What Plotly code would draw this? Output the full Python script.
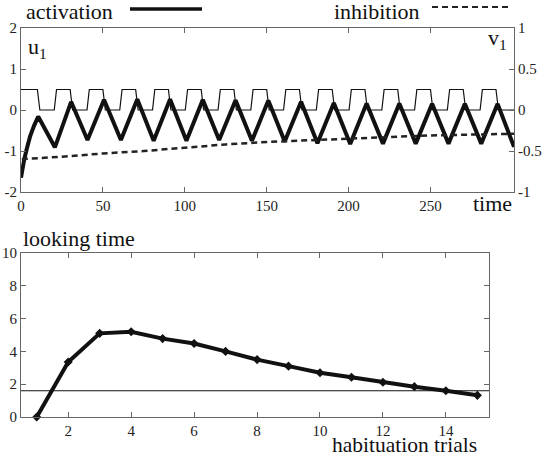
import plotly.graph_objects as go

W, H = 550, 458

# stimulus (thin square wave), left axis
stim_t = [0, 10, 11.5, 20.3, 21.7, 30, 31.5, 40.3, 41.7, 50, 51.5, 60.3, 61.7, 70, 71.5,
          80.3, 81.7, 90, 91.5, 100.3, 101.7, 110, 111.5, 120.3, 121.7, 130, 131.5,
          140.3, 141.7, 150, 151.5, 160.3, 161.7, 170, 171.5, 180.3, 181.7, 190, 191.5,
          200.3, 201.7, 210, 211.5, 220.3, 221.7, 230, 231.5, 240.3, 241.7, 250, 251.5,
          260.3, 261.7, 270, 271.5, 280.3, 281.7, 290, 291.5, 301]
stim_u = [0.5, 0.5, 0, 0, 0.5, 0.5, 0, 0, 0.5, 0.5, 0, 0, 0.5, 0.5, 0,
          0, 0.5, 0.5, 0, 0, 0.5, 0.5, 0, 0, 0.5, 0.5, 0,
          0, 0.5, 0.5, 0, 0, 0.5, 0.5, 0, 0, 0.5, 0.5, 0,
          0, 0.5, 0.5, 0, 0, 0.5, 0.5, 0, 0, 0.5, 0.5, 0,
          0, 0.5, 0.5, 0, 0, 0.5, 0.5, 0, 0]

# activation u1 (thick line), left axis
act_t = [0, 0.8, 2, 3.5, 5.5, 8, 10.5, 20.7, 30.6, 40.6, 50.7, 61, 71, 81, 91, 101, 111,
         121, 131, 141, 151, 161, 171, 181, 191, 201, 211, 221, 231, 241, 251, 261, 271,
         281, 291, 301]
act_u = [-1.65, -1.45, -1.2, -0.95, -0.65, -0.38, -0.16, -0.91, 0.2, -0.73, 0.25, -0.73,
         0.26, -0.75, 0.26, -0.75, 0.25, -0.73, 0.24, -0.75, 0.23, -0.77, 0.2, -0.81, 0.17,
         -0.83, 0.16, -0.82, 0.16, -0.82, 0.15, -0.82, 0.15, -0.82, 0.15, -0.9]

# inhibition v1 (dashed), right axis
inh_t = [0.5, 25, 50, 75, 100, 125, 150, 175, 200, 225, 250, 275, 301]
inh_v = [-0.6, -0.57, -0.53, -0.5, -0.46, -0.42, -0.39, -0.37, -0.35, -0.33, -0.31, -0.3, -0.29]

# looking time per habituation trial
trials = list(range(1, 16))
looking = [0, 3.35, 5.1, 5.2, 4.78, 4.48, 4.0, 3.5, 3.1, 2.7, 2.42, 2.12, 1.85, 1.6, 1.32]
threshold = 1.6

t_ticks = [0, 50, 100, 150, 200, 250]
u_ticks = [-2, -1, 0, 1, 2]
u_text = ["-2", "-1", "0", "1", "2"]
v_ticks = [-1, -0.5, 0, 0.5, 1]
v_text = ["-1", "-0.5", "0", "0.5", "1"]
trial_ticks = [2, 4, 6, 8, 10, 12, 14]
look_ticks = [0, 2, 4, 6, 8, 10]

FONT = "Times New Roman, Liberation Serif, Times, serif"
INK = "#111111"
AXC = "#666666"


def px(x):
    return x / W


def py(y):
    return 1 - y / H


fig = go.Figure()
fig.add_trace(go.Scatter(x=stim_t, y=stim_u, mode="lines",
                         line=dict(color=INK, width=1.2), xaxis="x", yaxis="y"))
fig.add_trace(go.Scatter(x=act_t, y=act_u, mode="lines",
                         line=dict(color=INK, width=4), xaxis="x", yaxis="y"))
fig.add_trace(go.Scatter(x=inh_t, y=inh_v, mode="lines",
                         line=dict(color="#222222", width=2.5, dash="6px,4px"),
                         xaxis="x", yaxis="y2"))
fig.add_trace(go.Scatter(x=trials, y=looking, mode="lines+markers", cliponaxis=False,
                         line=dict(color=INK, width=4),
                         marker=dict(symbol="diamond", size=7, color=INK),
                         xaxis="x2", yaxis="y3"))

fig.add_shape(type="line", xref="x2 domain", yref="y3", x0=0, x1=1,
              y0=threshold, y1=threshold, line=dict(color=INK, width=1.2))

# legend samples drawn to the right of the labels
fig.add_shape(type="line", xref="paper", yref="paper", x0=px(130), x1=px(202),
              y0=py(9), y1=py(9), line=dict(color=INK, width=3.5))
fig.add_shape(type="line", xref="paper", yref="paper", x0=px(432), x1=px(512),
              y0=py(7), y1=py(7), line=dict(color="#222222", width=2, dash="6px,4px"))

ax = dict(showline=True, linecolor=AXC, linewidth=1, ticks="inside", ticklen=5,
          tickcolor=AXC, showgrid=False, zeroline=False, automargin=False,
          tickfont=dict(family=FONT, size=15, color="#222222"))

fig.update_layout(
    width=W, height=H, margin=dict(l=0, r=0, t=0, b=0, autoexpand=False),
    paper_bgcolor="white", plot_bgcolor="white", showlegend=False,
    font=dict(family=FONT, color="#111111"),
    xaxis=dict(ax, domain=[px(21), px(514)], range=[0, 301], tickvals=t_ticks,
               anchor="y", mirror="ticks"),
    yaxis=dict(ax, domain=[py(192), py(28)], range=[-2, 2], tickvals=u_ticks,
               ticktext=u_text, anchor="x"),
    yaxis2=dict(ax, range=[-1, 1], tickvals=v_ticks, ticktext=v_text,
                overlaying="y", side="right", anchor="x"),
    xaxis2=dict(ax, domain=[px(21), px(489)], range=[0.5, 15.37], tickvals=trial_ticks,
                anchor="y3", mirror="ticks"),
    yaxis3=dict(ax, domain=[py(417), py(253)], range=[0, 10], tickvals=look_ticks,
                anchor="x2", mirror="ticks"),
)

labels = [
    ("activation", 25, 11, "left", 22),
    ("inhibition", 333, 11, "left", 22),
    ("u<sub>1</sub>", 27, 48, "left", 22),
    ("v<sub>1</sub>", 487, 39, "left", 22),
    ("time", 513, 204, "right", 22),
    ("looking time", 22, 238, "left", 22),
    ("habituation trials", 331, 445, "left", 21.5),
]
for text, x, y, anchor, size in labels:
    fig.add_annotation(text=text, xref="paper", yref="paper", x=px(x), y=py(y),
                       xanchor=anchor, yanchor="middle", showarrow=False, borderpad=0,
                       font=dict(family=FONT, size=size, color="#111111"))

fig.write_html("out.html", config={"displayModeBar": False},
               post_script="document.body.style.margin='0';")
